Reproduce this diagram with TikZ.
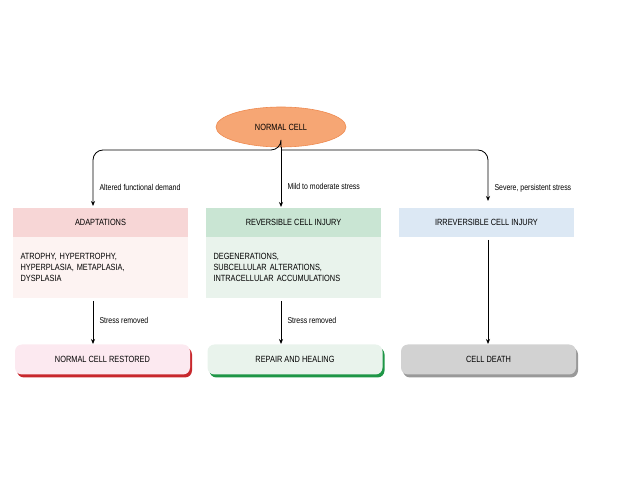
\documentclass[tikz,border=0pt]{standalone}
\usepackage{fontspec}
\setmainfont{Liberation Sans}[FakeStretch=0.82]
\usetikzlibrary{shapes.geometric,arrows.meta}
\definecolor{pkH}{HTML}{F7D6D6}\definecolor{pkB}{HTML}{FDF3F2}
\definecolor{grH}{HTML}{C9E5D3}\definecolor{grB}{HTML}{E9F3EC}
\definecolor{blH}{HTML}{DCE8F4}
\definecolor{orF}{HTML}{F6A674}\definecolor{orD}{HTML}{EE8A50}
\begin{document}
\begin{tikzpicture}[x=1pt,y=-1pt,font=\fontsize{9}{11}\selectfont,
  arr/.style={-{Stealth[length=5pt,width=4pt]},line width=0.8pt},
  lab/.style={anchor=west,font=\fontsize{8.5}{10}\selectfont},
  hdr/.style={minimum width=175pt,minimum height=29pt,inner sep=0pt},
  body/.style={minimum width=175pt,minimum height=61pt,anchor=north,align=left,inner sep=0pt,text width=160pt},
  fin/.style={minimum width=175pt,minimum height=30pt,rounded corners=7pt,inner sep=0pt}]
\useasboundingbox (0,0) rectangle (638,478);
\node[ellipse,fill=orF,draw=orD,line width=0.6pt,minimum width=130pt,minimum height=40pt,inner sep=0pt] (nc) at (281,127) {NORMAL CELL};
% headers
\node[hdr,fill=pkH] (ad) at (100.5,222.5) {ADAPTATIONS};
\node[body,fill=pkB] (adb) at (ad.south) {ATROPHY, HYPERTROPHY,\\HYPERPLASIA, METAPLASIA,\\DYSPLASIA};
\node[hdr,fill=grH] (rv) at (293.5,222.5) {REVERSIBLE CELL INJURY};
\node[body,fill=grB] (rvb) at (rv.south) {DEGENERATIONS,\\SUBCELLULAR ALTERATIONS,\\INTRACELLULAR ACCUMULATIONS};
\node[hdr,fill=blH] (ir) at (486.5,222.5) {IRREVERSIBLE CELL INJURY};
% final boxes
\node[fin,fill={rgb,255:red,200;green,40;blue,45}] (s1) at (104.5,362.5) {};
\node[fin,fill={rgb,255:red,252;green,233;blue,240}] (f1) at (102.5,359.5) {NORMAL CELL RESTORED};
\node[fin,fill={rgb,255:red,30;green,150;blue,70}] (s2) at (297,362.5) {};
\node[fin,fill=grB] (f2) at (295,359.5) {REPAIR AND HEALING};
\node[fin,fill=gray!80] (s3) at (490.5,362.5) {};
\node[fin,fill=gray!35] (f3) at (488.5,359.5) {CELL DEATH};
% connectors
\coordinate (top) at (281,150);
\draw[arr,rounded corners=10pt] (nc.south) -- (top) -| (93,206);
\draw[arr,rounded corners=10pt] (top) -| (488,201);
\draw[arr] (nc.south) -- (281,207);
\node[lab] at (96,187) {Altered functional demand};
\node[lab] at (284,186) {Mild to moderate stress};
\node[lab] at (491,188) {Severe, persistent stress};
\draw[arr] (93,301) -- (93,344);
\draw[arr] (281,301) -- (281,344);
\draw[arr] (488,240) -- (488,344);
\node[lab] at (96,320) {Stress removed};
\node[lab] at (284,320) {Stress removed};
\end{tikzpicture}
\end{document}
